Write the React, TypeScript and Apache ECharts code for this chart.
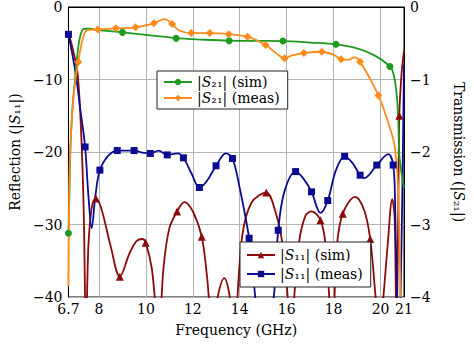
import React, { useEffect, useRef } from 'react';
import * as echarts from 'echarts';

const freqTicks = [6.7, 8, 10, 12, 14, 16, 18, 20, 21];

// |S21| simulated (right axis)
const s21SimFreq = [6.7, 6.74, 6.78, 6.87, 6.98, 7.1, 7.22, 7.37, 7.6, 7.9, 9.0, 10.2, 11.29, 12.4, 13.55, 14.7, 15.84, 17.0, 18.1, 19.0, 19.7, 20.4, 20.55, 20.67, 20.75, 20.8, 20.9, 21.0];
const s21SimVal = [-3.12, -2.6, -2.0, -1.4, -1.0, -0.6, -0.38, -0.3, -0.3, -0.315, -0.35, -0.39, -0.43, -0.45, -0.465, -0.468, -0.47, -0.49, -0.515, -0.57, -0.66, -0.82, -0.92, -1.15, -1.5, -2.04, -2.3, -2.5];
const s21SimMarks = [0, 10, 12, 14, 16, 18, 21];

// |S21| measured (right axis)
const s21MeasFreq = [6.7, 6.72, 6.77, 6.9, 7.01, 7.12, 7.3, 7.5, 7.95, 8.72, 9.56, 10.34, 10.8, 11.12, 11.4, 11.93, 12.72, 13.53, 14.33, 15.1, 15.6, 15.91, 16.2, 16.73, 17.5, 18.0, 18.32, 18.6, 18.9, 19.13, 19.91, 20.47, 20.62, 20.75, 20.85];
const s21MeasVal = [-3.85, -3.0, -2.0, -1.3, -0.98, -0.76, -0.45, -0.32, -0.31, -0.294, -0.28, -0.225, -0.166, -0.234, -0.32, -0.36, -0.36, -0.375, -0.41, -0.524, -0.65, -0.708, -0.67, -0.635, -0.617, -0.66, -0.72, -0.73, -0.695, -0.754, -1.22, -1.74, -1.95, -2.5, -4.0];
const s21MeasMarks = [5, 8, 9, 10, 11, 13, 15, 16, 17, 18, 19, 21, 23, 24, 26, 29, 30];

// |S11| simulated (left axis)
const s11SimFreq = [6.7, 6.9, 7.1, 7.25, 7.35, 7.45, 7.55, 7.7, 7.87, 8.1, 8.5, 8.89, 9.3, 9.6, 9.85, 9.99, 10.25, 10.55, 10.75, 11.0, 11.33, 11.64, 12.0, 12.38, 12.6, 12.85, 13.06, 13.34, 13.55, 13.75, 14.1, 14.5, 15.13, 15.5, 15.81, 16.0, 16.15, 16.52, 16.8, 17.06, 17.44, 17.65, 17.95, 18.14, 18.39, 18.92, 19.3, 19.56, 19.79, 19.95, 20.12, 20.3, 20.5, 20.6, 20.68, 20.75, 20.8, 20.9, 21.0];
const s11SimVal = [-3.5, -6, -9.5, -18, -28, -45, -33, -27.5, -26.4, -27.8, -33, -37.2, -34, -32.3, -32, -32.5, -36, -45, -36, -30.5, -28.2, -26.9, -28.2, -31.7, -37, -45, -40, -37.4, -39.5, -45, -31.7, -27, -25.6, -28, -32.4, -38, -45, -32.6, -28.8, -28.2, -29.4, -32.6, -45, -33, -28.5, -26.2, -28, -32, -40, -45, -40, -33, -26.5, -29, -45, -30, -15, -9, -6];
const s11SimMarks = [8, 11, 15, 20, 23, 32, 40, 44, 47, 56];

// |S11| measured (left axis)
const s11MeasFreq = [6.7, 7.0, 7.2, 7.41, 7.55, 7.69, 7.85, 8.04, 8.4, 8.78, 9.15, 9.5, 9.85, 10.19, 10.54, 10.91, 11.36, 11.6, 11.95, 12.28, 12.6, 12.99, 13.41, 13.69, 14.0, 14.4, 14.6, 14.8, 15.0, 15.2, 15.45, 15.64, 15.9, 16.38, 16.7, 17.06, 17.44, 17.75, 18.1, 18.47, 18.8, 19.13, 19.31, 19.84, 20.33, 20.54, 20.62, 20.7, 20.78, 20.85, 20.93, 21.0];
const s11MeasVal = [-3.77, -9, -14, -19.3, -26, -30.5, -26, -22.5, -20.5, -19.8, -19.8, -19.8, -20.1, -20.2, -19.8, -20.4, -20.2, -20.8, -23, -24.9, -24, -21.9, -20.2, -20.9, -25, -31.9, -38, -44, -46, -44, -40, -30.8, -25.5, -22.7, -23.6, -25.5, -28.4, -26.7, -22.5, -20.6, -21.5, -23.2, -23.6, -21.8, -20.3, -21.8, -27, -40, -45, -40, -25, -8];
const s11MeasMarks = [0, 3, 7, 9, 11, 13, 15, 17, 19, 21, 23, 25, 31, 33, 35, 37, 39, 41, 43, 45];

const FONT = 'DejaVu Serif';
const FS = 14;
const GREEN = '#1f9a1f';
const ORANGE = '#ff8a1a';
const DARKRED = '#8b0a0a';
const NAVY = '#0c0c92';

const legendNames: Record<string, string> = {
  s21sim: '|{i|S}₂₁| (sim)',
  s21meas: '|{i|S}₂₁| (meas)',
  s11sim: '|{i|S}₁₁| (sim)',
  s11meas: '|{i|S}₁₁| (meas)',
};

function build(freq: number[], vals: number[], marks: number[]) {
  return freq.map((f, i) =>
    marks.indexOf(i) >= 0 ? [f, vals[i]] : { value: [f, vals[i]], symbol: 'none' }
  );
}

const fmtMinus = (v: number) => (v < 0 ? '\u2212' + String(-v) : String(v));

export default function App() {
  const ref = useRef<HTMLDivElement>(null);
  useEffect(() => {
    if (!ref.current) return;
    const chart = echarts.init(ref.current, undefined, { renderer: 'svg' });
    const rich = { i: { fontStyle: 'italic', fontFamily: FONT, fontSize: FS, color: '#000' } };
    const lineCommon = {
      type: 'line',
      smooth: 0.35,
      showAllSymbol: true,
      lineStyle: { width: 1.8 },
      clip: true,
    };
    const legendCommon = {
      orient: 'vertical',
      backgroundColor: '#fff',
      borderColor: '#222',
      borderWidth: 1,
      borderRadius: 0,
      itemWidth: 28,
      itemHeight: 8,
      textStyle: { fontFamily: FONT, fontSize: FS, color: '#000', rich },
      formatter: (n: string) => legendNames[n],
      z: 10,
    };
    chart.setOption({
      animation: false,
      backgroundColor: '#fff',
      textStyle: { fontFamily: FONT },
      grid: { left: 68, top: 7, right: 68, bottom: 48, show: true, borderColor: '#000', borderWidth: 1, backgroundColor: 'transparent' },
      legend: [
        { ...legendCommon, data: ['s21sim', 's21meas'], left: 157, top: 71, padding: [4, 8, 4, 6], itemGap: 2 },
        { ...legendCommon, data: ['s11sim', 's11meas'], left: 240, top: 242, padding: [6, 8, 6, 6], itemGap: 5 },
      ],
      xAxis: {
        type: 'value',
        min: 6.7,
        max: 21,
        name: 'Frequency (GHz)',
        nameLocation: 'middle',
        nameGap: 26,
        nameTextStyle: { fontFamily: FONT, fontSize: FS, color: '#000' },
        axisLine: { lineStyle: { color: '#000', width: 1 } },
        axisTick: { show: false, customValues: freqTicks },
        axisLabel: { customValues: freqTicks, fontFamily: FONT, fontSize: FS, color: '#000', margin: 5, formatter: (v: number) => String(v) },
        splitLine: { show: true, lineStyle: { color: '#b4b4b4', width: 1 } },
      },
      yAxis: [
        {
          type: 'value',
          min: -40,
          max: 0,
          interval: 10,
          position: 'left',
          name: 'Reflection (|{i|S}₁₁|)',
          nameLocation: 'middle',
          nameGap: 44,
          nameTextStyle: { fontFamily: FONT, fontSize: FS, color: '#000', rich },
          axisLine: { show: true, lineStyle: { color: '#000', width: 1 } },
          axisTick: { show: false },
          axisLabel: { fontFamily: FONT, fontSize: FS, color: '#000', margin: 6, formatter: fmtMinus },
          splitLine: { show: true, lineStyle: { color: '#b4b4b4', width: 1 } },
        },
        {
          type: 'value',
          min: -4,
          max: 0,
          interval: 1,
          position: 'right',
          name: 'Transmission (|{i|S}₂₁|)',
          nameLocation: 'middle',
          nameGap: 48,
          nameRotate: -90,
          nameTextStyle: { fontFamily: FONT, fontSize: FS, color: '#000', rich },
          axisLine: { show: true, lineStyle: { color: '#000', width: 1 } },
          axisTick: { show: false },
          axisLabel: { fontFamily: FONT, fontSize: FS, color: '#000', margin: 6, formatter: fmtMinus },
          splitLine: { show: false },
        },
      ],
      series: [
        { ...lineCommon, name: 's11sim', yAxisIndex: 0, color: DARKRED, symbol: 'triangle', symbolSize: 8, data: build(s11SimFreq, s11SimVal, s11SimMarks) },
        { ...lineCommon, name: 's11meas', yAxisIndex: 0, color: NAVY, symbol: 'rect', symbolSize: 7, data: build(s11MeasFreq, s11MeasVal, s11MeasMarks) },
        { ...lineCommon, name: 's21sim', yAxisIndex: 1, color: GREEN, symbol: 'circle', symbolSize: 7, data: build(s21SimFreq, s21SimVal, s21SimMarks) },
        { ...lineCommon, name: 's21meas', yAxisIndex: 1, color: ORANGE, symbol: 'diamond', symbolSize: 8, data: build(s21MeasFreq, s21MeasVal, s21MeasMarks) },
      ],
    });
    return () => chart.dispose();
  }, []);
  return <div ref={ref} style={{ position: 'absolute', left: 0, top: 0, width: 474, height: 345 }} />;
}
